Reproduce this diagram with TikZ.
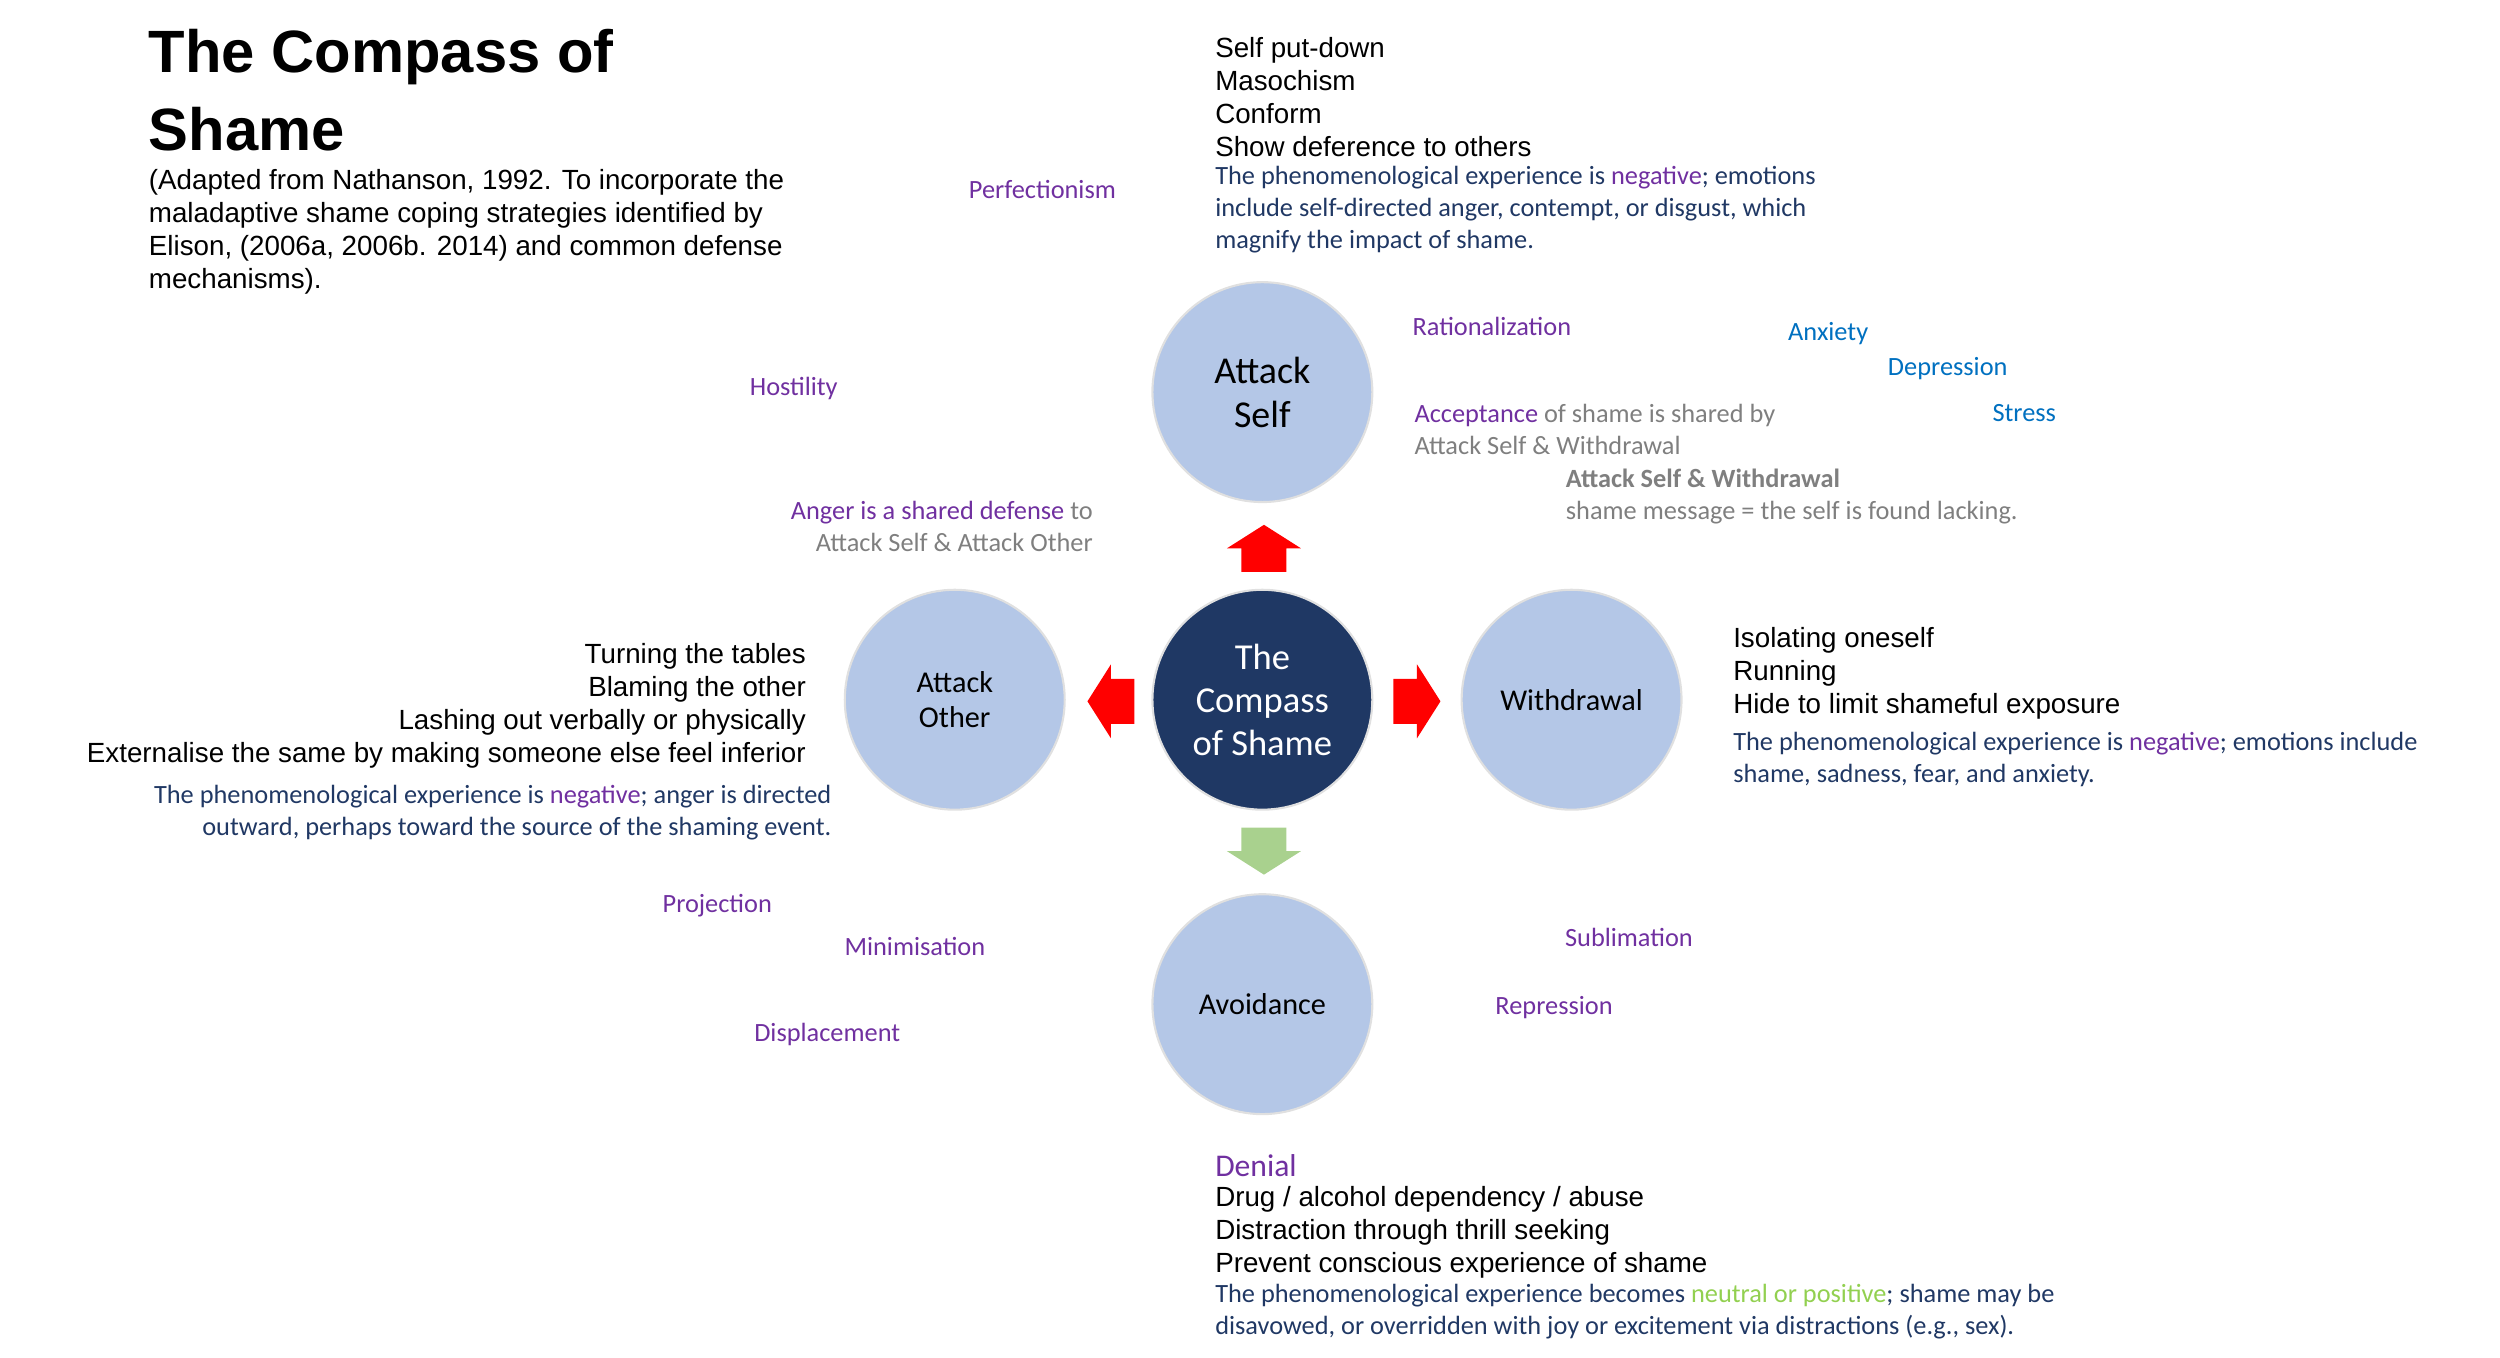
\documentclass[tikz,border=0pt]{standalone}
\usepackage{fontspec}
\setmainfont{Liberation Sans}
\newfontfamily\calfont{Carlito}
\definecolor{pur}{HTML}{7030A0}
\definecolor{nav}{HTML}{203864}
\definecolor{blu}{HTML}{0070C0}
\definecolor{gry}{HTML}{7F7F7F}
\definecolor{grn}{HTML}{92D050}
\definecolor{lgrn}{HTML}{A9D18E}
\definecolor{lbl}{HTML}{B4C7E7}
\definecolor{dk}{HTML}{1F3864}
\newcommand\cmparrow[3]{\begin{scope}[shift={#1},rotate=#2,x=1cm,y=1cm]
 \fill[#3] (-0.235,-0.225) -- (0,-0.225) -- (0,-0.37) -- (0.235,0) -- (0,0.37) -- (0,0.225) -- (-0.235,0.225) -- cycle;
\end{scope}}
\begin{document}
\begin{tikzpicture}[x=0.01594cm,y=-0.01594cm,
 circ/.style={circle,minimum size=2.2cm,fill=lbl,draw=black!12,line width=0.6pt,align=center,font=\calfont\fontsize{8.6}{10}\selectfont},
 blk/.style={anchor=west,inner sep=0,font=\fontsize{7.9}{9.4}\selectfont},
 sm/.style={inner sep=0,font=\calfont\fontsize{7.5}{9.1}\selectfont},
 bl/.style={sm,anchor=west,text=nav,align=left},
 p/.style={sm,text=pur}]
\useasboundingbox (0,0) rectangle (1568.5,851.4);
% title
\node[blk,font=\bfseries\fontsize{17}{19}\selectfont] (t1) at (93,36) {The Compass of};
\node[blk,font=\bfseries\fontsize{17}{19}\selectfont] (t2) at (93,81) {Shame};
\node[blk,anchor=north west,align=left] (sub) at (93,106) {(Adapted from Nathanson, 1992. To incorporate the\\maladaptive shame coping strategies identified by\\Elison, (2006a, 2006b. 2014) and common defense\\mechanisms).};
% circles
\node[circ,font=\calfont\fontsize{10.8}{12.5}\selectfont] (as) at (792,246) {Attack\\Self};
\node[circ,fill=dk,text=white,font=\calfont\fontsize{10.4}{12.3}\selectfont] (c) at (792,439) {The\\Compass\\of Shame};
\node[circ] (ao) at (599,439) {Attack\\Other};
\node[circ] (w) at (986,439) {Withdrawal};
\node[circ] (av) at (792,630) {Avoidance};
% arrows
\cmparrow{(793,344)}{90}{red}
\cmparrow{(697,440)}{180}{red}
\cmparrow{(889,440)}{0}{red}
\cmparrow{(793,534)}{-90}{lgrn}
% top
\node[blk,anchor=north west,align=left] (top) at (762,23) {Self put-down\\Masochism\\Conform\\Show deference to others};
\node[bl,anchor=north west] (topb) at (762,104) {The phenomenological experience is \textcolor{pur}{negative}; emotions\\include self-directed anger, contempt, or disgust, which\\magnify the impact of shame.};
\node[p] (pf) at (654,119) {Perfectionism};
\node[p] (ra) at (936,205) {Rationalization};
\node[sm,text=blu] (anx) at (1147,209) {Anxiety};
\node[sm,text=blu] (dep) at (1222,231) {Depression};
\node[sm,text=blu] (str) at (1270,259) {Stress};
\node[p] (ho) at (498,244) {Hostility};
\node[sm,anchor=north west,align=left,text=gry] (acc) at (887,253) {\textcolor{pur}{Acceptance} of shame is shared by\\Attack Self \& Withdrawal};
\node[sm,anchor=north west,align=left,text=gry] (msg) at (982,294) {\textbf{Attack Self \& Withdrawal}\\shame message = the self is found lacking.};
\node[sm,anchor=north east,align=right,text=gry] (ang) at (686,314) {\textcolor{pur}{Anger is a shared defense} to\\Attack Self \& Attack Other};
% left
\node[blk,anchor=north east,align=right] (left) at (506,403) {Turning the tables\\Blaming the other\\Lashing out verbally or physically\\Externalise the same by making someone else feel inferior};
\node[sm,anchor=north east,align=right,text=nav] (leftb) at (522,492) {The phenomenological experience is \textcolor{pur}{negative}; anger is directed\\outward, perhaps toward the source of the shaming event.};
% right
\node[blk,anchor=north west,align=left] (right) at (1087,393) {Isolating oneself\\Running\\Hide to limit shameful exposure};
\node[bl,anchor=north west] (rightb) at (1087,459) {The phenomenological experience is \textcolor{pur}{negative}; emotions include\\shame, sadness, fear, and anxiety.};
% lower defenses
\node[p] (pr) at (450,568) {Projection};
\node[p] (mi) at (574,594) {Minimisation};
\node[p] (di) at (519,649) {Displacement};
\node[p] (su) at (1022,588) {Sublimation};
\node[p] (re) at (975,632) {Repression};
% bottom
\node[sm,anchor=west,text=pur,font=\calfont\fontsize{9}{10}\selectfont] (den) at (762,731) {Denial};
\node[blk,anchor=north west,align=left] (bot) at (762,744) {Drug / alcohol dependency / abuse\\Distraction through thrill seeking\\Prevent conscious experience of shame};
\node[bl,anchor=north west] (botb) at (762,805) {The phenomenological experience becomes \textcolor{grn}{neutral or positive}; shame may be\\disavowed, or overridden with joy or excitement via distractions (e.g., sex).};
\end{tikzpicture}
\end{document}
